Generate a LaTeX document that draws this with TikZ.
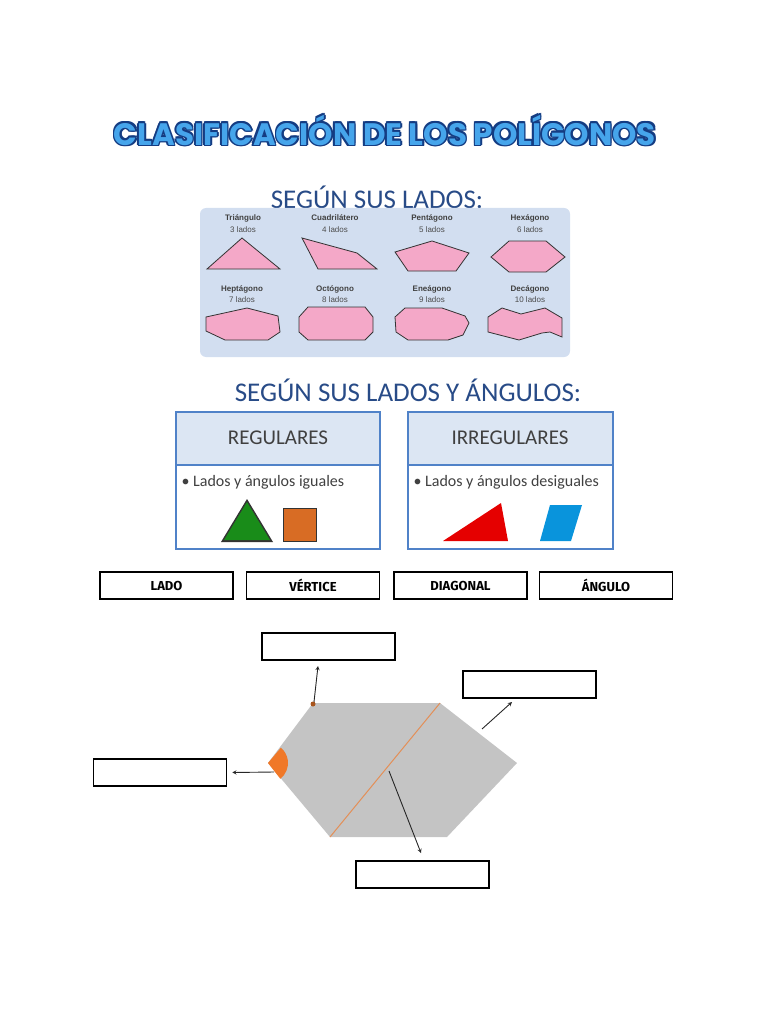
\documentclass[tikz,border=0pt]{standalone}
\usepackage{fontspec}
\setmainfont{Carlito}
\newfontfamily\ttlfont{Poppins}
\newfontfamily\smfont{Liberation Sans}
\newfontfamily\lblfont{Fira Sans}
\definecolor{hdr}{RGB}{40,75,135}
\definecolor{panel}{RGB}{210,222,240}
\definecolor{pinkf}{RGB}{244,168,200}
\definecolor{bbord}{RGB}{80,130,200}
\definecolor{bhead}{RGB}{220,230,243}
\definecolor{ttlblue}{RGB}{70,165,235}
\definecolor{ttldark}{RGB}{20,60,130}
\definecolor{hexg}{RGB}{196,196,196}
\definecolor{orng}{RGB}{240,120,40}
\tikzset{
 poly/.style={fill=pinkf,draw=black!80,line width=0.8pt},
 pname/.style={anchor=base,font=\smfont\bfseries\fontsize{8}{9}\selectfont,text=black!75},
 psub/.style={anchor=base,font=\smfont\fontsize{8}{9}\selectfont,text=black!70},
 wbox/.style={draw=black,line width=1.6pt,minimum width=133pt,minimum height=27pt,font=\lblfont\bfseries\fontsize{13}{14}\selectfont},
 blank/.style={draw=black,line width=1.5pt,minimum width=133pt,minimum height=27pt},
 arr/.style={->,>=stealth,line width=0.9pt,black!85},
 catbox/.style={draw=bbord,line width=1.2pt},
 ttl/.style={font=\ttlfont\bfseries\fontsize{31}{33}\selectfont},
}
\begin{document}
\begin{tikzpicture}[x=1pt,y=-1pt]
\useasboundingbox (0,0) rectangle (768,1024);
% title
\foreach \dx/\dy in {-1.6/0,1.6/0,0/-1.6,0/1.6,-1.2/-1.2,1.2/1.2,-1.2/1.2,1.2/-1.2}
 \node[ttl,text=ttldark] at (385+\dx,130+\dy) {CLASIFICACIÓN DE LOS POLÍGONOS};
\node (title) [ttl,text=ttlblue] at (385,130) {CLASIFICACIÓN DE LOS POLÍGONOS};
% headings
\node (h1) [font=\fontsize{27}{29}\selectfont,text=hdr] at (377,197) {SEGÚN SUS LADOS:};
\node (h2) [font=\fontsize{27}{29}\selectfont,text=hdr] at (408,390) {SEGÚN SUS LADOS Y ÁNGULOS:};
% panel
\fill[panel,rounded corners=6pt] (200,208) rectangle (570,357);
\foreach \x/\n/\s in {243/Triángulo/3 lados,335/Cuadrilátero/4 lados,432/Pentágono/5 lados,530/Hexágono/6 lados}{
 \node[pname] at (\x,221) {\n}; \node[psub] at (\x,233) {\s};}
\foreach \x/\n/\s in {242/Heptágono/7 lados,335/Octógono/8 lados,432/Eneágono/9 lados,530/Decágono/10 lados}{
 \node[pname] at (\x,291) {\n}; \node[psub] at (\x,302) {\s};}
\draw[poly] (207,269)--(242,238)--(280,269)--cycle;
\draw[poly] (302,238)--(357,253)--(377,269)--(318,269)--cycle;
\draw[poly] (395,252)--(432,241)--(469,253)--(456,271)--(408,271)--cycle;
\draw[poly] (491,257)--(509,241)--(546,241)--(565,257)--(546,272)--(509,272)--cycle;
\draw[poly] (206,317)--(247,308)--(278,316)--(280,332)--(268,340)--(225,340)--(206,331)--cycle;
\draw[poly] (308,307)--(365,307)--(373,317)--(373,332)--(365,340)--(308,340)--(299,332)--(299,317)--cycle;
\draw[poly] (405,308)--(442,308)--(465,316)--(469,323)--(463,335)--(448,340)--(408,340)--(396,332)--(395,317)--cycle;
\draw[poly] (488,317)--(502,308)--(521,314)--(545,308)--(562,318)--(562,337)--(550,332)--(542,333)--(519,340)--(488,332)--cycle;
% category boxes
\fill[bhead] (176,412) rectangle (380,465);
\draw[catbox] (176,412) rectangle (380,549); \draw[catbox] (176,465)--(380,465);
\node (reg) [font=\fontsize{21}{23}\selectfont,text=black!75] at (278,438) {REGULARES};
\node[anchor=west,font=\fontsize{16}{18}\selectfont,text=black!75] at (178,482) {• Lados y ángulos iguales};
\fill[black!80] (221,542)--(247,499)--(273,542)--cycle;
\fill[green!50!black!90] (224,540)--(247,502)--(270,540)--cycle;
\draw[black!80,fill=orng!90!black,line width=1pt] (283,508) rectangle (316,541);
\fill[bhead] (408,412) rectangle (613,465);
\draw[catbox] (408,412) rectangle (613,549); \draw[catbox] (408,465)--(613,465);
\node (irr) [font=\fontsize{21}{23}\selectfont,text=black!75] at (510,438) {IRREGULARES};
\node[anchor=west,font=\fontsize{16}{18}\selectfont,text=black!75] at (410,482) {• Lados y ángulos desiguales};
\fill[red!90!black] (443,541)--(501,503)--(508,541)--cycle;
\fill[cyan!80!blue] (550,505)--(582,505)--(571,541)--(540,541)--cycle;
% word boxes
\node (w1) [wbox] at (166.5,585.5) {LADO};
\node (w2) [wbox] at (313,585.5) {VÉRTICE};
\node (w3) [wbox] at (460.5,585.5) {DIAGONAL};
\node (w4) [wbox] at (606,585.5) {ÁNGULO};
% hexagon
\fill[hexg] (313,703)--(440,703)--(517,763)--(447,837)--(330,837)--(268,763)--cycle;
\draw[orng!70!hexg,line width=1pt] (440,703)--(330,837);
\fill[orng] (268,763) -- ++(52:20) arc[start angle=52,end angle=-50,radius=20] -- cycle;
\fill[orng!70!black] (313,704) circle (2.5);
\coordinate (pv) at (314,702);
\coordinate (pl) at (482,729);
\coordinate (pa) at (274,772);
\coordinate (pd) at (389,771);
\coordinate (tv) at (318,666);
\coordinate (tl) at (512,702);
\coordinate (td) at (421,853);
% blank boxes
\node (b1) [blank] at (328.5,646.5) {};
\node (b2) [blank] at (529.5,684.5) {};
\node (b3) [blank] at (160,772.5) {};
\node (b4) [blank] at (422.5,874.5) {};
\draw[arr] (pv) -- (tv);
\draw[arr] (pl) -- (tl);
\draw[arr] (pa) -- ([xshift=5pt]b3.east);
\draw[arr] (pd) -- (td);
\end{tikzpicture}
\end{document}
